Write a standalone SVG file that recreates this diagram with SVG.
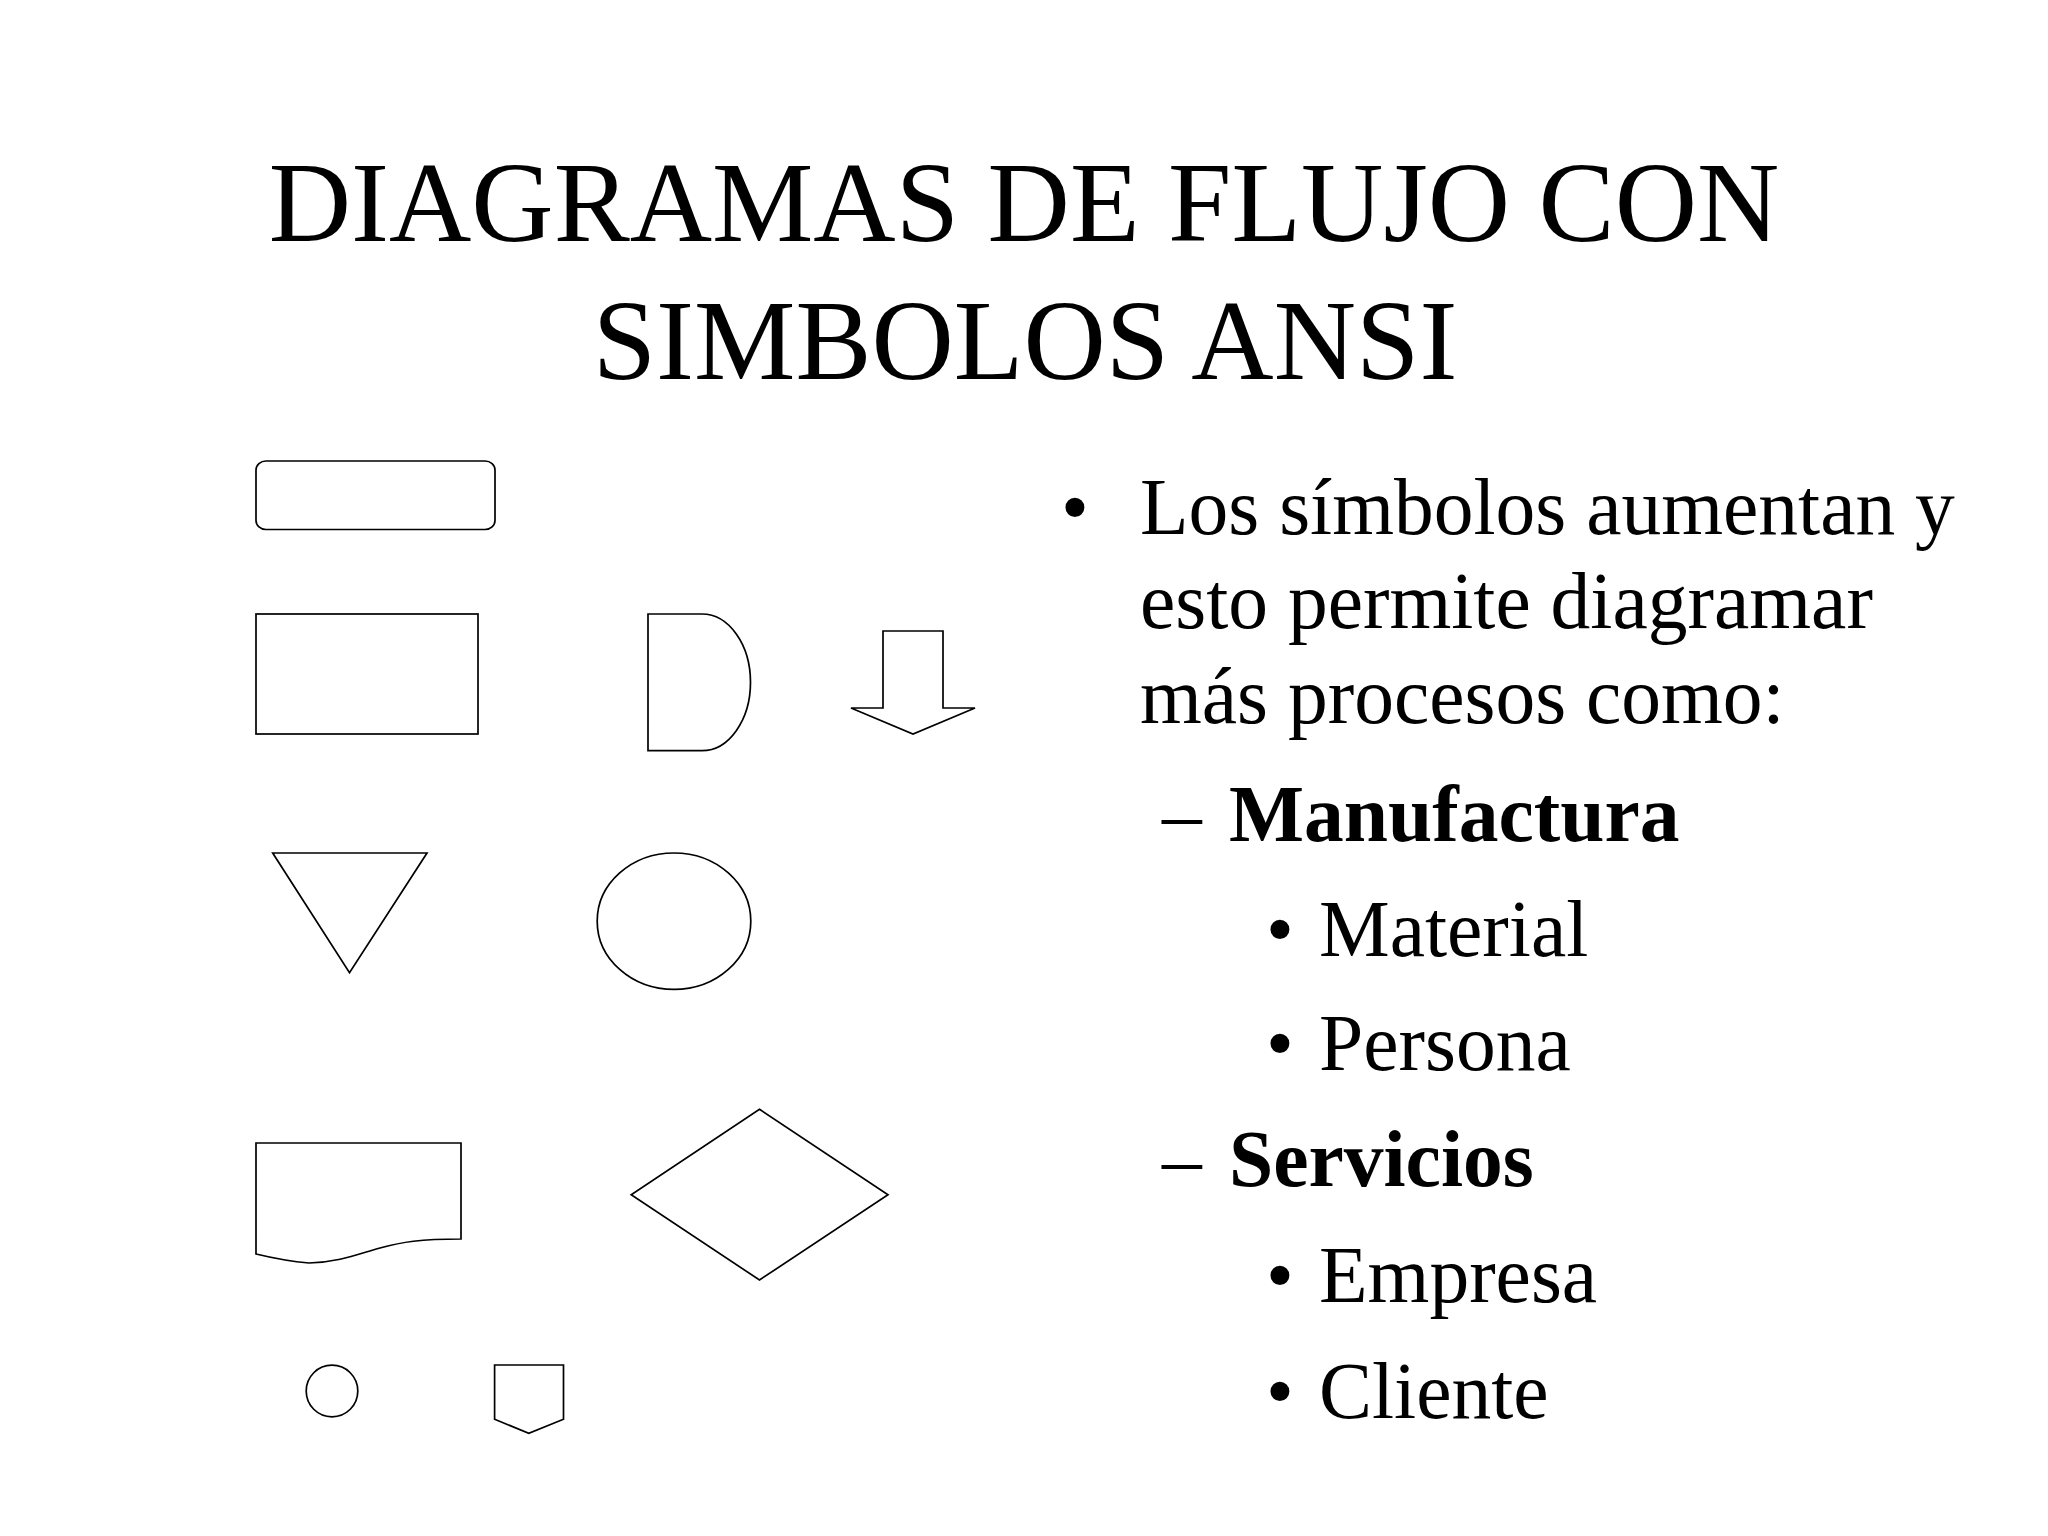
<svg xmlns="http://www.w3.org/2000/svg" width="2048" height="1536" viewBox="0 0 2048 1536">
<style>
.shape{fill:#fff;stroke:#000;stroke-width:1.7;stroke-linejoin:miter}
.title{font-family:"Liberation Serif","Times New Roman",serif;font-size:114px;fill:#000;text-anchor:middle}
.body{font-family:"Liberation Serif","Times New Roman",serif;font-size:79.5px;fill:#000}
.bold{font-weight:bold}
</style>
<rect width="2048" height="1536" fill="#fff"/>
<g id="title">
<text class="title" x="1024" y="241">DIAGRAMAS DE FLUJO CON</text>
<text class="title" x="1025" y="379">SIMBOLOS ANSI</text>
</g>
<g id="terminator"><rect class="shape" x="256" y="461" width="239" height="68.5" rx="10" ry="9"/></g>
<g id="process"><rect class="shape" x="256" y="614" width="222" height="120"/></g>
<g id="delay"><path class="shape" d="M648,614 H702 A48.5,68.35 0 0 1 702,750.7 H648 Z"/></g>
<g id="flow-arrow"><polygon class="shape" points="883,631 943,631 943,708 975,708 913,734 851,708 883,708"/></g>
<g id="storage"><polygon class="shape" points="272.7,853 427,853 349.5,972.7"/></g>
<g id="connector"><ellipse class="shape" cx="674" cy="921.2" rx="76.8" ry="68.2"/></g>
<g id="document"><path class="shape" d="M256,1143 H461 V1239 C420,1239 402,1242 380,1248 C358,1254 340,1262 309,1263 Q285,1261 256,1254 Z"/></g>
<g id="decision"><polygon class="shape" points="759.5,1109.3 888,1194.7 759.5,1280 631.2,1194.7"/></g>
<g id="small-connector"><circle class="shape" cx="332" cy="1391" r="25.8"/></g>
<g id="offpage"><polygon class="shape" points="494.6,1365 563.5,1365 563.5,1419.3 528.8,1433.3 494.6,1419.3"/></g>
<g id="connectors"></g>
<g id="bullets">
<text class="body" x="1061" y="534">•</text>
<text class="body" x="1140" y="534">Los símbolos aumentan y</text>
<text class="body" x="1140" y="628">esto permite diagramar</text>
<text class="body" x="1140" y="723">más procesos como:</text>
<text class="body" x="1162" y="840.5">–</text>
<text class="body bold" x="1229" y="840.5">Manufactura</text>
<text class="body" x="1266" y="956">•</text>
<text class="body" x="1319" y="956">Material</text>
<text class="body" x="1266" y="1070">•</text>
<text class="body" x="1319" y="1070">Persona</text>
<text class="body" x="1162" y="1186">–</text>
<text class="body bold" x="1229" y="1186">Servicios</text>
<text class="body" x="1266" y="1302">•</text>
<text class="body" x="1319" y="1302">Empresa</text>
<text class="body" x="1266" y="1418">•</text>
<text class="body" x="1319" y="1418">Cliente</text>
</g>
</svg>
